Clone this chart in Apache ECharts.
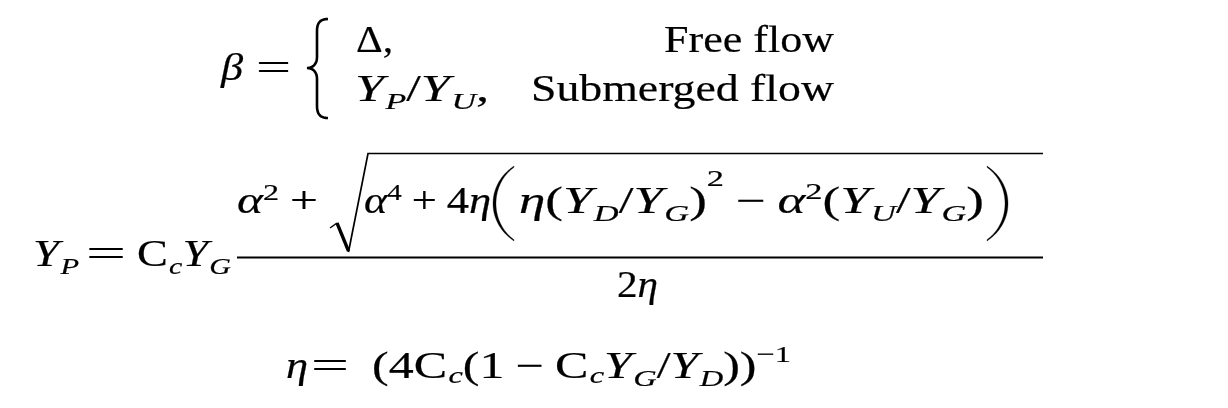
<!DOCTYPE html>
<html><head><meta charset="utf-8">
<script src="https://cdn.jsdelivr.net/npm/echarts@6/dist/echarts.min.js"></script>
<style>html,body{margin:0;padding:0;background:#fff}#chart{width:1228px;height:408px}</style>
</head><body><div id="chart"></div>
<script>
// ---------- equation text tokens: [text, kind, optional vertical shift] ----------
// kinds: 'i' italic, 'r' roman, 'bin' binary operator, 'sub' subscript, 'sup' superscript
const betaLHS   = [['β','i']];
const eqSign    = [['=','r']];
const case1Expr = [['Δ','r'],[',','r']];
const case1Cond = [['Free flow','r']];
const case2Expr = [['Y','i'],['P','sub'],['/','r'],['Y','i'],['U','sub'],[',','r']];
const case2Cond = [['Submerged flow','r']];
const ypLHS     = [['Y','i'],['P','sub']];
const ccyg      = [['C','r'],['c','sub'],['Y','i'],['G','sub']];
const numA      = [['α','i'],['2','sup'],['+','bin']];
const numB      = [['α','i'],['4','sup'],['+','bin'],['4','r'],['η','i']];
const numC      = [['η','i'],['(','r'],['Y','i'],['D','sub'],['/','r'],['Y','i'],['G','sub'],[')','r'],['2','sup',-27],
                   ['−','bin'],['α','i'],['2','sup',-14],['(','r'],['Y','i'],['U','sub'],['/','r'],['Y','i'],['G','sub'],[')','r']];
const denom     = [['2','r'],['η','i']];
const etaLHS    = [['η','i']];
const etaRHS    = [['(','r'],['4','r'],['C','r'],['c','sub',5],['(','r'],['1','r'],['−','bin'],['C','r'],['c','sub',5],
                   ['Y','i'],['G','sub'],['/','r'],['Y','i'],['D','sub'],[')','r'],[')','r'],['−1','sup',-16]];

// ---------- typesetting ----------
const F = 37, S = 24, MU = F / 18;
const FAM = '"Liberation Serif", "Times New Roman", serif';
const SUB_DY = 8, SUP_DY = -13;
const ctx = document.createElement('canvas').getContext('2d');

function tokFont(kind) {
  if (kind === 'i') return {size: F, style: 'italic'};
  if (kind === 'sub') return {size: S, style: 'italic'};
  if (kind === 'sup') return {size: S, style: 'normal'};
  return {size: F, style: 'normal'};
}
function fontStr(f) { return f.style + ' normal ' + f.size + 'px ' + FAM; }
function measure(text, f) { ctx.font = fontStr(f); ctx.textBaseline = 'alphabetic'; return ctx.measureText(text).width; }
function midOff(f) { ctx.font = fontStr(f); ctx.textBaseline = 'middle'; const d = ctx.measureText('H').actualBoundingBoxDescent; ctx.textBaseline = 'alphabetic'; return d; }

function layoutTokens(tokens) {
  let x = 0; const items = [];
  tokens.forEach((t, i) => {
    const [text, kind, dy] = t;
    const f = tokFont(kind);
    if (kind === 'bin' && i > 0) x += 4 * MU;
    if (kind === 'sub') x += 1;
    const w = measure(text, f);
    const yOff = dy !== undefined ? dy : (kind === 'sub' ? SUB_DY : kind === 'sup' ? SUP_DY : 0);
    items.push({text, f, x, w, yOff});
    x += w;
    if (kind === 'bin' && i < tokens.length - 1) x += 4 * MU;
  });
  return {items, width: x};
}
function textEl(it, base) {
  return {type: 'text', x: it.x, y: base + it.yOff - midOff(it.f),
    style: {text: it.text, fontSize: it.f.size, fontFamily: FAM, fontStyle: it.f.style,
            fill: '#000', stroke: '#000', lineWidth: 0.2, align: 'left', verticalAlign: 'middle'}};
}
// fit a token run horizontally into [xl, xr] on the given baseline
function fitSeg(tokens, xl, xr, base) {
  const L = layoutTokens(tokens);
  const s = (xr - xl) / L.width;
  return {type: 'group', x: xl, y: 0, scaleX: s, children: L.items.map(it => textEl(it, base))};
}
// center a token run at cx with a fixed horizontal stretch
function centerSeg(tokens, cx, base, sx) {
  const L = layoutTokens(tokens);
  return {type: 'group', x: cx - L.width * sx / 2, y: 0, scaleX: sx, children: L.items.map(it => textEl(it, base))};
}

function cubic(p0, p1, p2, p3, n) {
  const pts = [];
  for (let k = 0; k <= n; k++) {
    const t = k / n, u = 1 - t;
    pts.push([u*u*u*p0[0] + 3*u*u*t*p1[0] + 3*u*t*t*p2[0] + t*t*t*p3[0],
              u*u*u*p0[1] + 3*u*u*t*p1[1] + 3*u*t*t*p2[1] + t*t*t*p3[1]]);
  }
  return pts;
}
function bigParen(xL, xR, top, bot, isLeft, th) {
  const h = bot - top;
  const tipX = isLeft ? xR : xL, bulge = isLeft ? xL : xR;
  const c1 = (bulge - 0.25 * tipX) / 0.75;
  const c2 = ((bulge + (isLeft ? th : -th)) - 0.25 * tipX) / 0.75;
  const outer = cubic([tipX, top], [c1, top + 0.25*h], [c1, bot - 0.25*h], [tipX, bot], 40);
  const inner = cubic([tipX, bot - 1.3], [c2, bot - 0.25*h], [c2, top + 0.25*h], [tipX, top + 1.3], 40);
  return {type: 'polygon', shape: {points: outer.concat(inner)}, style: {fill: '#000', stroke: '#000', lineWidth: 0.3}};
}
function bracePts() {
  let p = [];
  p = p.concat(cubic([328,19],[320,19],[317,23],[317,31],10));
  p = p.concat(cubic([317,57],[317,64],[313,68],[307,68],10));
  p = p.concat(cubic([307,68],[313,68],[317,72],[317,79],10));
  p = p.concat(cubic([317,106],[317,114],[320,118],[328,118],10));
  return p;
}
const SX = 1.2;
const elements = [
  centerSeg(betaLHS, 232, 80, SX),
  fitSeg(eqSign, 256, 291, 80),
  {type: 'polyline', shape: {points: bracePts()}, style: {stroke: '#000', lineWidth: 2.6, fill: null}},
  fitSeg(case1Expr, 356, 393, 52),
  fitSeg(case1Cond, 664, 834, 52),
  fitSeg(case2Expr, 355, 489, 101),
  fitSeg(case2Cond, 531, 834, 101),

  fitSeg(ypLHS, 33, 79, 266),
  fitSeg(eqSign, 86, 126, 266),
  fitSeg(ccyg, 137, 231, 266),
  {type: 'line', shape: {x1: 237, y1: 257.5, x2: 1043, y2: 257.5}, style: {stroke: '#000', lineWidth: 2.1}},
  fitSeg(numA, 237, 318, 213),
  {type: 'polyline', shape: {points: [[330,228],[337,223]]}, style: {stroke: '#000', lineWidth: 1.5, fill: null}},
  {type: 'line', shape: {x1: 337, y1: 223, x2: 348.5, y2: 251}, style: {stroke: '#000', lineWidth: 3.3}},
  {type: 'polyline', shape: {points: [[348.5,252],[368,153.5],[1043,153.5]]}, style: {stroke: '#000', lineWidth: 1.7, fill: null}},
  fitSeg(numB, 364, 491, 213),
  bigParen(493, 514, 166, 241, true, 3),
  fitSeg(numC, 519, 984, 213),
  bigParen(987, 1008, 166, 241, false, 3),
  fitSeg(denom, 617, 658, 297),

  centerSeg(etaLHS, 297, 378, SX),
  fitSeg(eqSign, 311, 349, 378),
  fitSeg(etaRHS, 372, 791, 378)
];

const chart = echarts.init(document.getElementById('chart'), null, {renderer: 'canvas'});
chart.setOption({backgroundColor: '#ffffff', animation: false, graphic: {elements}});
</script></body></html>
